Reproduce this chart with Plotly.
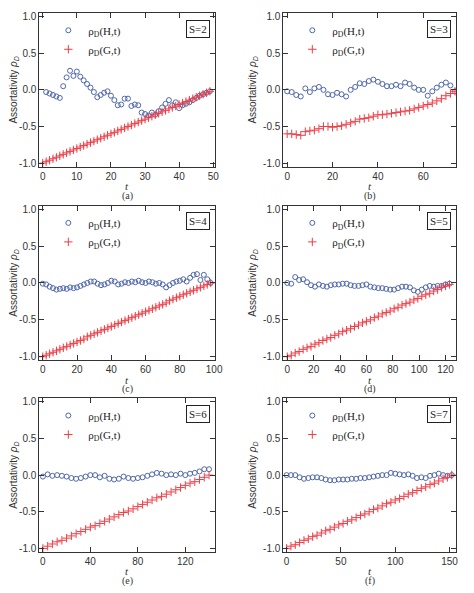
import plotly.graph_objects as go

# ---- data ----
t_a_h = list(range(1, 50))
h_a = [-0.03, -0.05, -0.07, -0.09, -0.11, 0.05, 0.17, 0.26, 0.19, 0.25, 0.18, 0.13, 0.08, 0.03,
       -0.03, -0.10, -0.07, -0.04, -0.02, -0.08, -0.14, -0.21, -0.20, -0.12, -0.12, -0.22, -0.20,
       -0.21, -0.31, -0.33, -0.35, -0.31, -0.34, -0.29, -0.24, -0.19, -0.14, -0.21, -0.17, -0.25,
       -0.21, -0.19, -0.17, -0.14, -0.11, -0.08, -0.06, -0.04, -0.02]
t_a_g = list(range(0, 50))
g_a = [-1.00, -0.98, -0.96, -0.94, -0.92, -0.90, -0.88, -0.86, -0.84, -0.82, -0.80, -0.78, -0.76,
       -0.74, -0.72, -0.70, -0.68, -0.66, -0.64, -0.62, -0.60, -0.58, -0.56, -0.54, -0.52, -0.50,
       -0.48, -0.46, -0.44, -0.42, -0.40, -0.38, -0.36, -0.34, -0.32, -0.30, -0.28, -0.26, -0.24,
       -0.22, -0.20, -0.18, -0.16, -0.14, -0.12, -0.10, -0.08, -0.06, -0.04, -0.02]

t_b = list(range(0, 75, 2))
h_b = [-0.02, -0.03, -0.07, -0.09, 0.02, -0.03, 0.02, 0.04, 0.00, -0.06, -0.07, -0.04, -0.06,
       -0.09, 0.00, 0.04, 0.09, 0.08, 0.12, 0.14, 0.11, 0.08, 0.05, 0.05, 0.07, 0.05, 0.10, 0.08,
       0.03, 0.00, 0.00, -0.08, -0.02, 0.03, 0.07, 0.10, 0.06, -0.02]
g_b = [-0.60, -0.60, -0.61, -0.62, -0.57, -0.56, -0.55, -0.53, -0.50, -0.50, -0.51, -0.50, -0.49,
       -0.47, -0.45, -0.43, -0.40, -0.39, -0.38, -0.36, -0.34, -0.34, -0.33, -0.32, -0.31, -0.30,
       -0.29, -0.28, -0.26, -0.24, -0.22, -0.20, -0.18, -0.15, -0.12, -0.08, -0.05, -0.02]

t_c = list(range(0, 99, 2))
h_c = [-0.01, -0.02, -0.05, -0.07, -0.09, -0.08, -0.07, -0.08, -0.06, -0.07, -0.06, -0.04, -0.02,
       0.00, 0.02, 0.02, -0.01, -0.03, -0.02, 0.00, 0.03, 0.02, -0.02, -0.01, 0.01, 0.00, 0.02,
       0.01, 0.03, 0.01, 0.00, 0.02, 0.01, -0.01, 0.00, -0.02, -0.06, -0.03, 0.00, 0.02, 0.03,
       0.05, 0.02, 0.07, 0.11, 0.12, 0.04, 0.11, 0.05, 0.00]
g_c = [-1.00, -0.98, -0.96, -0.94, -0.92, -0.90, -0.88, -0.86, -0.84, -0.82, -0.80, -0.78, -0.76,
       -0.73, -0.71, -0.69, -0.67, -0.65, -0.63, -0.61, -0.59, -0.57, -0.55, -0.53, -0.51, -0.49,
       -0.47, -0.45, -0.43, -0.41, -0.39, -0.37, -0.35, -0.33, -0.31, -0.29, -0.27, -0.24, -0.22,
       -0.20, -0.18, -0.16, -0.14, -0.12, -0.10, -0.08, -0.06, -0.04, -0.02, 0.00]

t_d = list(range(0, 126, 3))
h_d = [0.00, -0.01, 0.08, 0.04, 0.05, 0.01, -0.03, -0.05, -0.02, -0.04, -0.05, -0.03, -0.02,
       -0.02, -0.01, -0.01, -0.03, -0.04, -0.04, -0.03, -0.02, -0.05, -0.06, -0.07, -0.07, -0.08,
       -0.09, -0.09, -0.07, -0.05, -0.05, -0.06, -0.10, -0.12, -0.09, -0.06, -0.04, -0.05, -0.04,
       -0.04, -0.02, -0.01]
g_d = [-1.00, -0.98, -0.95, -0.93, -0.90, -0.88, -0.86, -0.83, -0.81, -0.78, -0.76, -0.74, -0.71,
       -0.69, -0.66, -0.64, -0.62, -0.59, -0.57, -0.54, -0.52, -0.50, -0.47, -0.45, -0.42, -0.40,
       -0.38, -0.35, -0.33, -0.30, -0.28, -0.26, -0.23, -0.21, -0.18, -0.16, -0.14, -0.11, -0.09,
       -0.06, -0.04, -0.02]

t_e = list(range(0, 141, 4))
h_e = [-0.02, 0.01, -0.01, 0.00, -0.01, -0.02, -0.04, -0.05, -0.04, -0.02, 0.00, 0.00, -0.03,
       -0.01, -0.05, -0.06, -0.05, -0.02, -0.04, -0.05, -0.04, -0.03, -0.01, 0.01, 0.03, 0.02,
       0.00, 0.01, 0.00, 0.02, 0.00, 0.02, 0.03, 0.05, 0.08, 0.08]
g_e = [-1.00, -0.97, -0.94, -0.91, -0.89, -0.86, -0.83, -0.80, -0.77, -0.74, -0.71, -0.69, -0.66,
       -0.63, -0.60, -0.57, -0.54, -0.51, -0.49, -0.46, -0.43, -0.40, -0.37, -0.34, -0.31, -0.29,
       -0.26, -0.23, -0.20, -0.17, -0.14, -0.11, -0.09, -0.06, -0.03, 0.00]

t_f = list(range(0, 153, 4))
h_f = [0.00, 0.00, 0.00, -0.03, -0.05, -0.04, -0.03, -0.03, -0.04, -0.06, -0.07, -0.07, -0.06,
       -0.06, -0.06, -0.05, -0.05, -0.04, -0.04, -0.03, -0.02, -0.01, 0.00, 0.00, 0.03, 0.02,
       0.01, 0.00, 0.01, -0.01, -0.04, -0.03, -0.04, -0.01, 0.00, 0.02, 0.00, -0.01, 0.00]
g_f = [-1.00, -0.97, -0.95, -0.92, -0.89, -0.87, -0.84, -0.82, -0.79, -0.76, -0.74, -0.71, -0.68,
       -0.66, -0.63, -0.61, -0.58, -0.55, -0.53, -0.50, -0.47, -0.45, -0.42, -0.39, -0.37, -0.34,
       -0.32, -0.29, -0.26, -0.24, -0.21, -0.18, -0.16, -0.13, -0.11, -0.08, -0.05, -0.03, 0.00]

panels = [
    (t_a_h, h_a, t_a_g, g_a, "S=2", "(a)", [-1, 50.5], [0, 10, 20, 30, 40, 50]),
    (t_b, h_b, t_b, g_b, "S=3", "(b)", [-1.7, 74.5], [0, 20, 40, 60]),
    (t_c, h_c, t_c, g_c, "S=4", "(c)", [-2, 100.5], [0, 20, 40, 60, 80, 100]),
    (t_d, h_d, t_d, g_d, "S=5", "(d)", [-3, 128], [0, 20, 40, 60, 80, 100, 120]),
    (t_e, h_e, t_e, g_e, "S=6", "(e)", [-3, 145], [0, 40, 80, 120]),
    (t_f, h_f, t_f, g_f, "S=7", "(f)", [-3, 156], [0, 50, 100, 150]),
]

# layout measured in reference pixels (474x593), drawn a bit smaller to fit the window
W, H = 474, 593
FW, FH = 458, 578
xdoms = [(33 / W, 218 / W), (290 / W, 472 / W)]
rows_px = [(3, 162), (202, 362), (401, 560)]

BLUE = "#5068ac"
RED = "#ee3e46"
serif = "Liberation Serif"

fig = go.Figure()
layout = dict(width=FW, height=FH, margin=dict(l=0, r=0, t=0, b=0),
              plot_bgcolor="white", paper_bgcolor="white", showlegend=True)
annotations = []

for i, (th, hv, tg, gv, s_lab, p_lab, xr, xt) in enumerate(panels):
    r, c = divmod(i, 2)
    n = i + 1
    xa = "x" if n == 1 else f"x{n}"
    ya = "y" if n == 1 else f"y{n}"
    lg = "legend" if n == 1 else f"legend{n}"
    top, bot = rows_px[r]
    ydom = (1 - bot / H, 1 - top / H)
    fig.add_trace(go.Scatter(x=th, y=hv, xaxis=xa, yaxis=ya, mode="markers", legend=lg,
                             name="ρ<sub>D</sub>(H,t)",
                             marker=dict(symbol="circle-open", size=5, color=BLUE,
                                         line=dict(width=1, color=BLUE))))
    fig.add_trace(go.Scatter(x=tg, y=gv, xaxis=xa, yaxis=ya, mode="markers", legend=lg,
                             name="ρ<sub>D</sub>(G,t)",
                             marker=dict(symbol="cross-thin-open", size=6, color=RED,
                                         line=dict(width=1, color=RED))))
    axkey = "xaxis" if n == 1 else f"xaxis{n}"
    aykey = "yaxis" if n == 1 else f"yaxis{n}"
    common = dict(showline=True, linecolor="#333", linewidth=1, mirror="allticks",
                  ticks="inside", ticklen=5, tickcolor="#333", showgrid=False, zeroline=False,
                  tickfont=dict(family="Liberation Sans", size=10, color="#333"))
    layout[axkey] = dict(domain=xdoms[c], range=xr, tickvals=xt, anchor=ya, **common)
    layout[aykey] = dict(domain=ydom, range=[-1.05, 1.05], tickvals=[-1, -0.5, 0, 0.5, 1],
                         ticktext=["-1.0", "-0.5", "0.0", "0.5", "1.0"], anchor=xa,
                         title=dict(text="Assortativity <i>ρ<sub>D</sub></i>",
                                    font=dict(family="Liberation Sans", size=10, color="#333"),
                                    standoff=4), **common)
    layout[lg] = dict(x=xdoms[c][0] + 0.02, y=ydom[1] - 0.005, xanchor="left", yanchor="top",
                      bgcolor="rgba(0,0,0,0)", tracegroupgap=0, itemwidth=30,
                      font=dict(family=serif, size=11, color="#222"))
    annotations.append(dict(text=s_lab, xref="paper", yref="paper", x=xdoms[c][1] - 0.012,
                            y=ydom[1] - 0.012, xanchor="right", yanchor="top", showarrow=False,
                            bordercolor="#222", borderwidth=1, borderpad=2,
                            font=dict(family=serif, size=11, color="#222")))
    xmid = (xdoms[c][0] + xdoms[c][1]) / 2
    annotations.append(dict(text="<i>t</i>", xref="paper", yref="paper", x=xmid, y=ydom[0] - 20 / H,
                            xanchor="center", yanchor="middle", showarrow=False,
                            font=dict(family=serif, size=11, color="#333")))
    annotations.append(dict(text=p_lab, xref="paper", yref="paper", x=xmid, y=ydom[0] - 30 / H,
                            xanchor="center", yanchor="middle", showarrow=False,
                            font=dict(family=serif, size=10, color="#333")))

layout["annotations"] = annotations
fig.update_layout(**layout)
fig.write_html("out.html")
